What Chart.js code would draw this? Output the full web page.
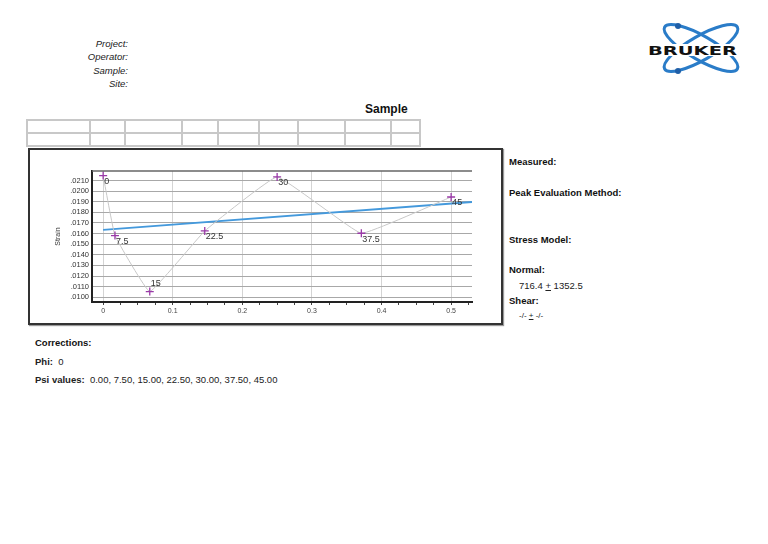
<!DOCTYPE html>
<html>
<head>
  <meta charset="utf-8">
  <title>Sample - Strain vs sin2psi</title>
  <script src="https://cdn.jsdelivr.net/npm/chart.js"></script>
  <style>
    body { margin: 0; width: 768px; height: 544px; background: #fff; font-family: "Liberation Sans", Arial, sans-serif; position: relative; overflow: hidden; }
    .abs { position: absolute; white-space: nowrap; }
    .hdr { font-size: 9.5px; font-style: italic; color: #222; text-align: right; width: 100px; left: 28px; }
    .lbl { font-size: 9.5px; font-weight: bold; color: #111; }
    .txt { font-size: 9.5px; color: #222; }
    #grid { position: absolute; left: 26px; top: 119px; border-collapse: collapse; }
    #grid td { border: 2px solid #c8c8c8; height: 11px; padding: 0; }
    #frame { position: absolute; left: 28px; top: 148px; width: 471px; height: 173px; border: 2px solid #333; box-shadow: 1px 1px 1px #999; background: #fff; }
    #chartBox { position: absolute; left: 30px; top: 150px; width: 470px; height: 172px; }
  </style>
</head>
<body>
  <div class="abs hdr" style="top:38px">Project:</div>
  <div class="abs hdr" style="top:51px">Operator:</div>
  <div class="abs hdr" style="top:65px">Sample:</div>
  <div class="abs hdr" style="top:78px">Site:</div>

  <svg class="abs" style="left:640px;top:20px" width="110" height="60" viewBox="0 0 110 60">
    <ellipse cx="61" cy="28" rx="42" ry="12" fill="none" stroke="#2a7cc8" stroke-width="3" transform="rotate(30 61 28)"/>
    <ellipse cx="61" cy="28" rx="42" ry="12" fill="none" stroke="#2a7cc8" stroke-width="3" transform="rotate(-30 61 28)"/>
    <circle cx="38" cy="6" r="3" fill="#1f5fa8"/>
    <circle cx="38" cy="51" r="3" fill="#1f5fa8"/>
    <rect x="7" y="24" width="92" height="12" fill="#fff"/>
    <text x="8" y="35" textLength="89" lengthAdjust="spacingAndGlyphs" font-family="DejaVu Sans, sans-serif" font-weight="bold" font-size="13" fill="#111">BRUKER</text>
  </svg>

  <div class="abs" style="left:365px;top:102px;font-size:12px;font-weight:bold;color:#111">Sample</div>
  <table id="grid">
    <tr><td style="width:61px"></td><td style="width:33px"></td><td style="width:55px"></td><td style="width:34px"></td><td style="width:39px"></td><td style="width:37px"></td><td style="width:45px"></td><td style="width:44px"></td><td style="width:27px"></td></tr>
    <tr><td></td><td></td><td></td><td></td><td></td><td></td><td></td><td></td><td></td></tr>
  </table>

  <div id="frame"></div>
  <div id="chartBox"><canvas id="strainChart"></canvas></div>

  <div class="abs lbl" style="left:509px;top:156px">Measured:</div>
  <div class="abs lbl" style="left:509px;top:187px">Peak Evaluation Method:</div>
  <div class="abs lbl" style="left:509px;top:234px">Stress Model:</div>
  <div class="abs lbl" style="left:509px;top:264px">Normal:</div>
  <div class="abs txt" style="left:519px;top:280px">716.4 <u>+</u> 1352.5</div>
  <div class="abs lbl" style="left:509px;top:295px">Shear:</div>
  <div class="abs txt" style="left:519px;top:311px;font-size:8px">-/- <u>+</u> -/-</div>

  <div class="abs lbl" style="left:35px;top:337px">Corrections:</div>
  <div class="abs txt" style="left:35px;top:356px"><b>Phi:</b>&nbsp;&nbsp;0</div>
  <div class="abs txt" style="left:35px;top:374px"><b>Psi values:</b>&nbsp;&nbsp;0.00, 7.50, 15.00, 22.50, 30.00, 37.50, 45.00</div>

  <script>
    // psi angles and measured points (x = sin^2 psi, y = strain)
    var psiLabels = ["0", "7.5", "15", "22.5", "30", "37.5", "45"];
    var sin2psi = [0, 0.017, 0.067, 0.146, 0.25, 0.371, 0.5];
    var strain = [0.02147, 0.01581, 0.01053, 0.01625, 0.02134, 0.01603, 0.01945];

    // linear regression line end points
    var fitX = [0, 0.53];
    var fitY = [0.01634, 0.01898];

    // axis ticks
    var yTicks = [0.0100, 0.0110, 0.0120, 0.0130, 0.0140, 0.0150, 0.0160, 0.0170, 0.0180, 0.0190, 0.0200, 0.0210];
    var xMajor = [0, 0.1, 0.2, 0.3, 0.4, 0.5];
    var xTicks = [0, 0.025, 0.05, 0.075, 0.1, 0.125, 0.15, 0.175, 0.2, 0.225, 0.25, 0.275, 0.3, 0.325, 0.35, 0.375, 0.4, 0.425, 0.45, 0.475, 0.5, 0.525];

    function isMajor(v) {
      return xMajor.some(function(m) { return Math.abs(m - v) < 1e-6; });
    }

    var pointLabels = {
      id: "pointLabels",
      afterDatasetsDraw: function(chart) {
        var ctx = chart.ctx;
        var meta = chart.getDatasetMeta(1);
        ctx.save();
        ctx.font = "9px 'Liberation Sans', Arial, sans-serif";
        ctx.fillStyle = "#333";
        ctx.textBaseline = "middle";
        meta.data.forEach(function(pt, i) {
          var dy = (i === 2) ? -8 : 6;
          ctx.fillText(psiLabels[i], pt.x + 1, pt.y + dy);
        });
        // top edge of plot area
        var a = chart.chartArea;
        ctx.strokeStyle = "#666";
        ctx.lineWidth = 1.5;
        ctx.beginPath();
        ctx.moveTo(a.left, a.top);
        ctx.lineTo(a.right, a.top);
        ctx.stroke();
        ctx.restore();
      }
    };

    var ctx = document.getElementById("strainChart").getContext("2d");
    var chart = new Chart(ctx, {
      type: "scatter",
      data: {
        datasets: [
          {
            label: "Fit",
            data: fitX.map(function(x, i) { return { x: x, y: fitY[i] }; }),
            showLine: true,
            borderColor: "#4499dc",
            borderWidth: 1.8,
            pointRadius: 0,
            order: 2
          },
          {
            label: "Measured",
            data: sin2psi.map(function(x, i) { return { x: x, y: strain[i] }; }),
            showLine: true,
            tension: 0.08,
            borderColor: "#c8c8c8",
            borderWidth: 1,
            pointStyle: "cross",
            pointRadius: 4,
            pointBorderColor: "#9a3aa8",
            pointBorderWidth: 1.3,
            order: 1
          }
        ]
      },
      options: {
        responsive: true,
        maintainAspectRatio: false,
        animation: false,
        layout: { padding: { left: 24, right: 28, top: 21, bottom: 0 } },
        plugins: { legend: { display: false }, tooltip: { enabled: false } },
        scales: {
          x: {
            type: "linear",
            min: -0.016,
            max: 0.53,
            afterBuildTicks: function(scale) {
              scale.ticks = xTicks.map(function(v) { return { value: v }; });
            },
            afterFit: function(scale) { scale.height = 20; },
            ticks: {
              autoSkip: false,
              maxRotation: 0,
              padding: 2,
              color: "#444",
              font: { size: 7, family: "'Liberation Sans', Arial, sans-serif" },
              callback: function(v) { return isMajor(v) ? String(Math.round(v * 10) / 10) : ""; }
            },
            grid: {
              color: function(c) { return c.tick && isMajor(c.tick.value) ? "#d4d4d4" : "rgba(0,0,0,0)"; },
              tickColor: "#444",
              tickLength: 3,
              lineWidth: 1
            },
            border: { color: "#222", width: 2 }
          },
          y: {
            type: "linear",
            min: 0.00955,
            max: 0.0219,
            afterBuildTicks: function(scale) {
              scale.ticks = yTicks.map(function(v) { return { value: v }; });
            },
            afterFit: function(scale) { scale.width = 38; },
            title: {
              display: true,
              text: "Strain",
              color: "#333",
              padding: 0,
              font: { size: 7, family: "'Liberation Sans', Arial, sans-serif" }
            },
            ticks: {
              autoSkip: false,
              padding: 3,
              color: "#333",
              font: { size: 7.5, family: "'Liberation Sans', Arial, sans-serif" },
              callback: function(v) { return v.toFixed(4).replace(/^0/, ""); }
            },
            grid: { color: "#a8a8a8", lineWidth: 1, drawTicks: false },
            border: { color: "#222", width: 2 }
          }
        }
      },
      plugins: [pointLabels]
    });
  </script>
</body>
</html>
